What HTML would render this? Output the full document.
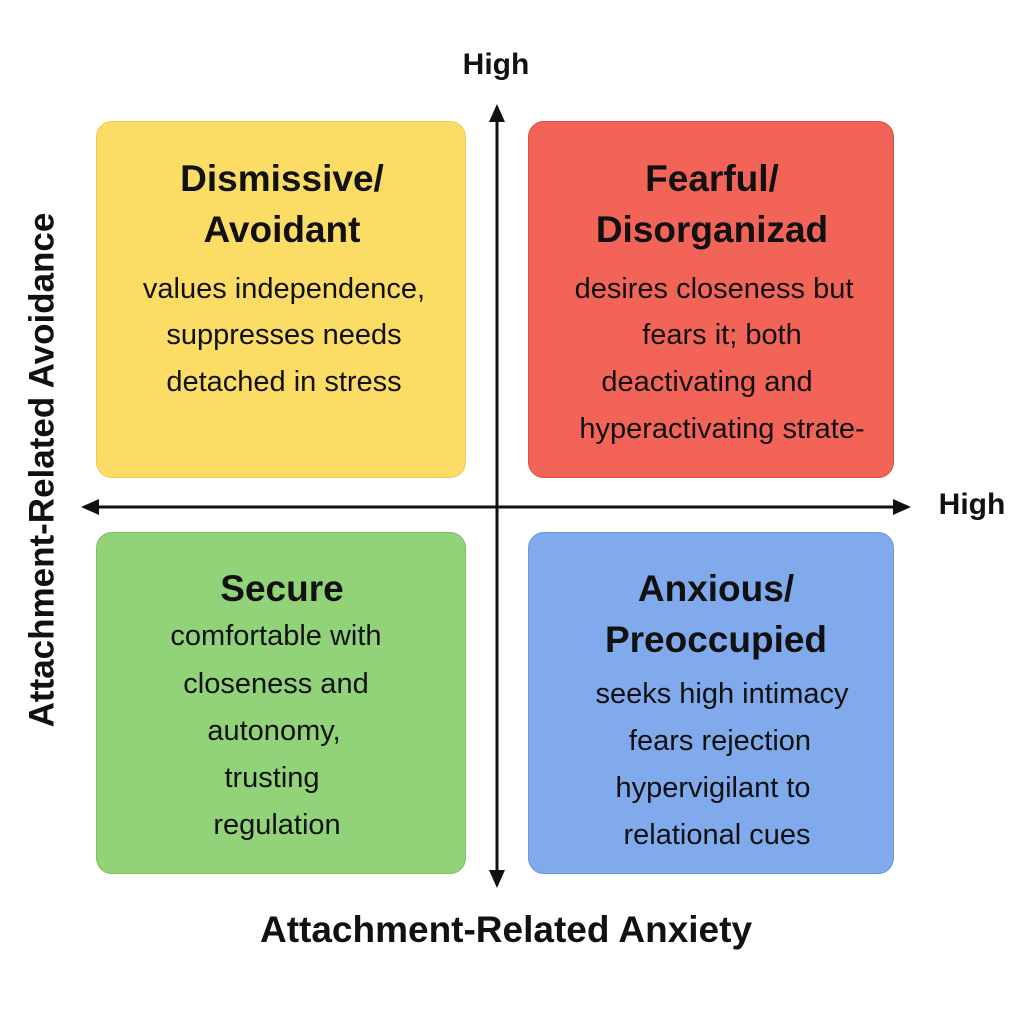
<!DOCTYPE html>
<html><head><meta charset="utf-8"><style>
body{margin:0;width:1024px;height:1024px;background:#fff;position:relative;overflow:hidden;font-family:"Liberation Sans","DejaVu Sans",sans-serif;color:#111}
.b{position:absolute;border-radius:16px}
.t{position:absolute;white-space:nowrap;transform:translateX(-50%);line-height:1}
.h{font-weight:bold;font-size:37px}
.p{font-size:29px}
</style></head><body>
<div class="b" style="left:96px;top:121px;width:368px;height:355px;background:#FBDD66;border:1px solid #f0cc50"></div>
<div class="b" style="left:528px;top:121px;width:364px;height:355px;background:#F26457;border:1px solid #e04c40"></div>
<div class="b" style="left:96px;top:532px;width:368px;height:340px;background:#92D37A;border:1px solid #7cc062"></div>
<div class="b" style="left:528px;top:532px;width:364px;height:340px;background:#80AAEC;border:1px solid #6a96e0"></div>
<svg style="position:absolute;left:0;top:0" width="1024" height="1024">
<line x1="497" y1="118" x2="497" y2="872" stroke="#111" stroke-width="3"/>
<polygon points="497,104 489,122 505,122" fill="#111"/>
<polygon points="497,888 489,870 505,870" fill="#111"/>
<line x1="96" y1="507" x2="896" y2="507" stroke="#111" stroke-width="3"/>
<polygon points="81,507 99,499 99,515" fill="#111"/>
<polygon points="911,507 893,499 893,515" fill="#111"/>
</svg>
<div class="t h" style="left:496px;top:50px;font-size:30px">High</div>
<div class="t h" style="left:972px;top:490px;font-size:30px">High</div>
<div class="t h" style="left:506px;top:911px;font-size:37px">Attachment-Related Anxiety</div>
<div class="t h" style="left:42px;top:470px;font-size:35px;transform:translate(-50%,-50%) rotate(-90deg)">Attachment-Related Avoidance</div>
<div class="t h" style="left:282px;top:160px">Dismissive/</div>
<div class="t h" style="left:282px;top:211px">Avoidant</div>
<div class="t p" style="left:284px;top:275px">values independence,</div>
<div class="t p" style="left:284px;top:321px">suppresses needs</div>
<div class="t p" style="left:284px;top:368px">detached in stress</div>
<div class="t h" style="left:712px;top:160px">Fearful/</div>
<div class="t h" style="left:712px;top:211px">Disorganizad</div>
<div class="t p" style="left:714px;top:275px">desires closeness but</div>
<div class="t p" style="left:722px;top:321px">fears it; both</div>
<div class="t p" style="left:707px;top:368px">deactivating and</div>
<div class="t p" style="left:722px;top:415px">hyperactivating strate-</div>
<div class="t h" style="left:282px;top:570px">Secure</div>
<div class="t p" style="left:276px;top:622px">comfortable with</div>
<div class="t p" style="left:276px;top:670px">closeness and</div>
<div class="t p" style="left:274px;top:717px">autonomy,</div>
<div class="t p" style="left:272px;top:764px">trusting</div>
<div class="t p" style="left:277px;top:811px">regulation</div>
<div class="t h" style="left:716px;top:570px">Anxious/</div>
<div class="t h" style="left:716px;top:621px">Preoccupied</div>
<div class="t p" style="left:722px;top:680px">seeks high intimacy</div>
<div class="t p" style="left:720px;top:727px">fears rejection</div>
<div class="t p" style="left:713px;top:774px">hypervigilant to</div>
<div class="t p" style="left:717px;top:821px">relational cues</div>
</body></html>
